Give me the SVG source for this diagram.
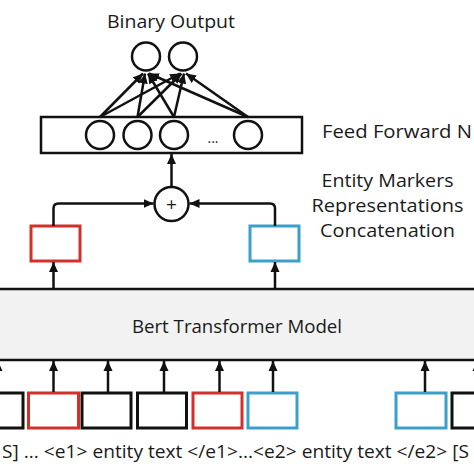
<svg xmlns="http://www.w3.org/2000/svg" width="474" height="474" viewBox="0 0 474 474">
<style>
text{font-family:"Open Sans",Lato,"DejaVu Sans",sans-serif;fill:#1a1a1a}
.lbl{font-size:18.5px}
.node{fill:#fff;stroke:#111;stroke-width:2.5}
.tok{fill:#fff;stroke:#111;stroke-width:3}
.red{stroke:#d3302c}
.blue{stroke:#3a9fca}
.conn{fill:none;stroke:#111;stroke-width:2.5}
</style>
<defs>
<marker id="ah" markerUnits="userSpaceOnUse" markerWidth="10" markerHeight="10" refX="10" refY="5" orient="auto">
<path d="M0,0.5 L10,5 L0,9.5 z" fill="#111"/>
</marker>
</defs>
<rect width="474" height="474" fill="#fff"/>

<g id="bert">
<rect x="-5" y="289" width="484" height="71" fill="#f2f2f2" stroke="#111" stroke-width="2.5"/>
<text x="237" y="333" text-anchor="middle" font-size="18.5" textLength="210" lengthAdjust="spacingAndGlyphs">Bert Transformer Model</text>
</g>

<g id="ffn">
<rect x="41" y="117" width="261" height="36" fill="#fff" stroke="#111" stroke-width="2.5"/>
<circle class="node" cx="100" cy="135" r="14"/>
<circle class="node" cx="137.5" cy="135" r="14"/>
<circle class="node" cx="174" cy="135" r="14"/>
<circle class="node" cx="248" cy="135" r="14"/>
<text x="213" y="143" text-anchor="middle" font-size="14">...</text>
</g>

<g id="output">
<circle class="node" cx="146" cy="56.5" r="14"/>
<circle class="node" cx="183" cy="56.5" r="14"/>
<text x="171" y="28" text-anchor="middle" class="lbl" textLength="128" lengthAdjust="spacingAndGlyphs">Binary Output</text>
</g>

<g id="plus">
<circle class="node" cx="171.5" cy="204" r="17"/>
<text x="171.5" y="210.5" text-anchor="middle" font-size="19">+</text>
</g>

<g id="e1-rep"><rect class="tok red" x="31" y="226" width="49" height="35"/></g>
<g id="e2-rep"><rect class="tok blue" x="250" y="226" width="49" height="35"/></g>

<g id="tokens">
<rect class="tok" x="-27" y="393" width="50" height="35"/>
<rect class="tok red" x="28.5" y="393" width="50" height="35"/>
<rect class="tok" x="82" y="393" width="49" height="35"/>
<rect class="tok" x="137.5" y="393" width="49" height="35"/>
<rect class="tok red" x="193" y="393" width="49" height="35"/>
<rect class="tok blue" x="248" y="393" width="49" height="35"/>
<rect class="tok blue" x="396" y="393" width="50" height="35"/>
<rect class="tok" x="452" y="393" width="50" height="35"/>
</g>

<g id="labels">
<text x="322" y="138" class="lbl" textLength="150" lengthAdjust="spacingAndGlyphs">Feed Forward N</text>
<text x="387.5" y="187" text-anchor="middle" class="lbl" textLength="132" lengthAdjust="spacingAndGlyphs">Entity Markers</text>
<text x="387.5" y="212" text-anchor="middle" class="lbl" textLength="152" lengthAdjust="spacingAndGlyphs">Representations</text>
<text x="387.5" y="237" text-anchor="middle" class="lbl" textLength="135" lengthAdjust="spacingAndGlyphs">Concatenation</text>
<text x="2" y="458" font-size="18.5" textLength="467" lengthAdjust="spacingAndGlyphs">S] ... &lt;e1&gt; entity text &lt;/e1&gt;...&lt;e2&gt; entity text &lt;/e2&gt; [S</text>
</g>

<g id="connectors">
<line class="conn" x1="100" y1="117" x2="143" y2="73.5" marker-end="url(#ah)"/>
<line class="conn" x1="100" y1="117" x2="180" y2="73.5" marker-end="url(#ah)"/>
<line class="conn" x1="137.5" y1="117" x2="145" y2="73.5" marker-end="url(#ah)"/>
<line class="conn" x1="137.5" y1="117" x2="181.5" y2="73.5" marker-end="url(#ah)"/>
<line class="conn" x1="174" y1="117" x2="148" y2="73.5" marker-end="url(#ah)"/>
<line class="conn" x1="174" y1="117" x2="184" y2="73.5" marker-end="url(#ah)"/>
<line class="conn" x1="248" y1="117" x2="149" y2="73.5" marker-end="url(#ah)"/>
<line class="conn" x1="248" y1="117" x2="186" y2="73.5" marker-end="url(#ah)"/>
<line class="conn" x1="171.5" y1="187" x2="171.5" y2="154" marker-end="url(#ah)"/>
<path class="conn" d="M53.5,226 V208.5 Q53.5,203.5 58.5,203.5 H153.5" marker-end="url(#ah)"/>
<path class="conn" d="M275,226 V208.5 Q275,203.5 270,203.5 H189.5" marker-end="url(#ah)"/>
<line class="conn" x1="53.5" y1="288" x2="53.5" y2="262" marker-end="url(#ah)"/>
<line class="conn" x1="275" y1="288" x2="275" y2="262" marker-end="url(#ah)"/>
<line class="conn" x1="-2" y1="392" x2="-2" y2="361" marker-end="url(#ah)"/>
<line class="conn" x1="53.5" y1="392" x2="53.5" y2="361" marker-end="url(#ah)"/>
<line class="conn" x1="108" y1="392" x2="108" y2="361" marker-end="url(#ah)"/>
<line class="conn" x1="164" y1="392" x2="164" y2="361" marker-end="url(#ah)"/>
<line class="conn" x1="219.5" y1="392" x2="219.5" y2="361" marker-end="url(#ah)"/>
<line class="conn" x1="273" y1="392" x2="273" y2="361" marker-end="url(#ah)"/>
<line class="conn" x1="425" y1="392" x2="425" y2="361" marker-end="url(#ah)"/>
<line class="conn" x1="477" y1="392" x2="477" y2="361" marker-end="url(#ah)"/>
</g>
</svg>
